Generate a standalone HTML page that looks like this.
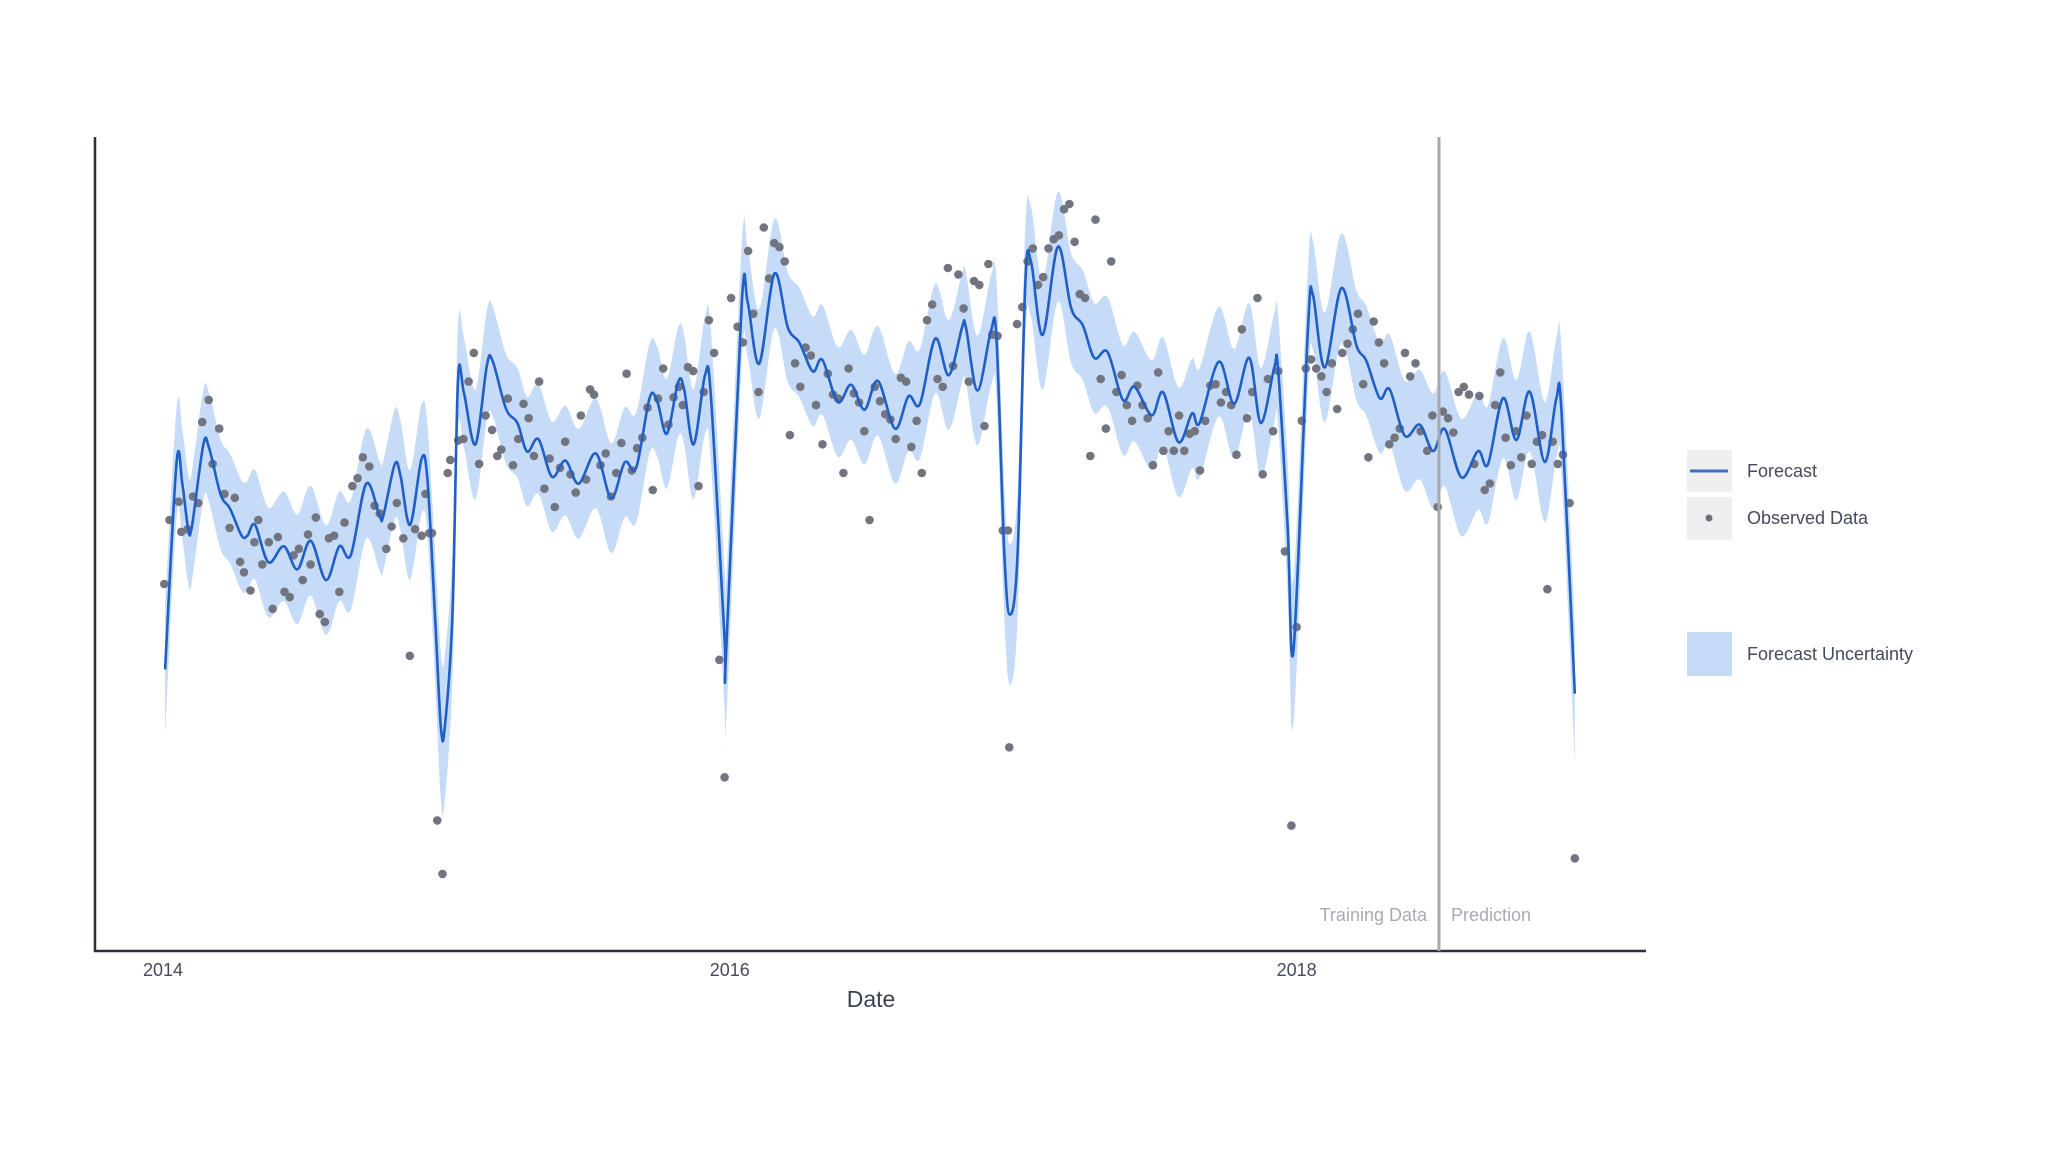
<!DOCTYPE html>
<html><head><meta charset="utf-8">
<style>
html,body{margin:0;padding:0;background:#fff;}
svg{display:block;}
text{font-family:"Liberation Sans",sans-serif;}
</style></head>
<body>
<svg id="chart" width="2048" height="1152" viewBox="0 0 2048 1152" xmlns="http://www.w3.org/2000/svg">
  <g id="band-layer"></g>
  <g id="dot-layer"></g>
  <g id="line-layer"></g>
  <line x1="95" y1="137" x2="95" y2="952" stroke="#2b2f3a" stroke-width="2.5"/>
  <line x1="94" y1="951" x2="1646" y2="951" stroke="#2b2f3a" stroke-width="2.5"/>
  <g id="tick-layer"></g>
  <text x="871" y="1007" font-size="23" fill="#3a4050" text-anchor="middle">Date</text>
  <line x1="1439" y1="137" x2="1439" y2="951" stroke="#a8a8ac" stroke-width="3"/>
  <text x="1427" y="921" font-size="18" fill="#a9abb2" text-anchor="end">Training Data</text>
  <text x="1451" y="921" font-size="18" fill="#a9abb2">Prediction</text>
  <g>
    <g>
      <rect x="1687" y="450" width="45" height="42" fill="#efeff1"/>
      <line x1="1690" y1="471" x2="1728" y2="471" stroke="#3f6fc4" stroke-width="3"/>
      <text x="1747" y="477" font-size="18" fill="#454b5c">Forecast</text>
    </g>
    <g>
      <rect x="1687" y="497" width="45" height="43" fill="#efeff1"/>
      <circle cx="1709" cy="518" r="3.5" fill="#6b6e78"/>
      <text x="1747" y="524" font-size="18" fill="#454b5c">Observed Data</text>
    </g>
    <g>
      <rect x="1687" y="632" width="45" height="44" fill="#c6dbf7"/>
      <text x="1747" y="660" font-size="18" fill="#454b5c">Forecast Uncertainty</text>
    </g>
  </g>
</svg>
<script>
// time unit: 217 units per year, t=0 at start of 2014
const tickYears = ["2014", "2016", "2018"];
const tickTimes = [0, 434, 868];

const forecastT = [1.6,10.4,14.8,19.2,22.1,30.9,35.3,44.1,51.4,60.2,
64.7,70.5,80.7,92.5,102.8,113.1,124.8,135.0,143.8,155.6,
165.8,168.7,177.5,182.0,189.2,198.0,202.5,208.3,212.7,215.7,
221.6,225.9,230.4,239.2,247.9,252.3,262.6,271.4,278.8,287.5,
297.8,308.1,318.3,331.5,343.2,353.5,362.3,372.6,378.5,385.8,
394.5,399.0,406.3,415.1,419.5,429.8,431.2,443.2,447.7,456.5,
468.2,478.4,487.3,497.5,504.9,516.6,526.9,537.1,547.4,560.5,
570.8,579.6,591.3,601.7,611.9,614.8,623.6,633.9,638.2,644.2,
648.5,654.4,660.3,664.7,673.5,685.2,695.4,704.3,713.1,723.3,
735.0,743.8,757.0,765.8,777.6,787.9,793.7,808.4,820.1,831.8,
840.6,850.9,853.8,861.1,865.6,876.7,880.5,889.5,902.3,913.8,
921.4,931.6,939.3,950.8,962.3,972.5,981.4,994.2,1006.9,1014.5,
1026.0,1036.3,1046.5,1058.0,1066.9,1070.8,1081];

const forecastV = [215.6,374.2,357.8,323.6,324.9,387.9,385.1,349.6,338.6,318.1,
318.1,326.3,297.6,309.9,292.2,314.1,284.0,309.9,303.1,357.8,
333.2,333.2,372.8,363.2,326.3,376.9,360.5,256.6,171.9,170.5,
256.6,437.0,427.5,387.9,448.0,452.1,415.2,404.3,382.4,391.9,
363.2,375.5,357.8,381.0,346.8,374.2,370.1,423.4,420.6,396.1,
435.7,430.2,387.9,441.2,424.8,242.9,227.9,496.7,496.7,449.7,
518.7,477.6,465.8,443.8,452.6,420.4,433.6,414.5,436.5,399.9,
424.8,419.0,468.8,440.9,477.6,477.6,429.2,474.6,468.8,304.6,
257.6,304.6,512.8,527.5,471.7,539.2,492.2,479.1,454.1,458.5,
421.9,432.1,410.2,427.8,389.6,411.6,404.3,451.2,419.0,454.1,
404.3,446.8,445.3,325.1,230.3,477.2,502.4,446.8,507.5,463.7,
451.9,423.3,430.0,394.6,403.0,382.8,399.7,362.6,382.8,372.7,
423.3,391.2,428.3,374.4,423.3,413.1,197];

const bandHalf = [50,42,42,42,42,42,42,42,42,42,
42,42,42,42,42,42,42,42,42,42,
42,42,42,42,42,42,42,50,56,56,
50,42,42,42,42,42,42,42,42,42,
42,42,42,42,42,42,42,42,42,42,
42,42,42,45,50,54,54,45,42,42,
42,42,42,42,42,42,42,42,42,42,
42,42,42,42,42,42,42,42,45,50,
54,50,42,42,42,42,42,42,42,42,
42,42,42,42,42,42,42,42,42,42,
42,42,42,50,56,45,42,42,42,42,
42,42,42,42,42,44,44,45,45,45,
46,46,46,46,46,48,52];

const obsT = [1,5,12,14,19,23,27,30,35,38,43,47,51,55,59,62,67,70,73,76,81,84,88,93,97,100,104,107,111,113,117,120,124,127,131,135,139,145,149,153,158,162,166,171,175,179,184,189,193,198,201,204,206,210,214,218,220,
226,230,234,238,242,247,252,256,259,264,268,272,276,280,284,288,292,296,300,304,308,312,316,320,324,327,330,335,339,343,347,351,355,359,363,367,371,375,379,383,387,391,395,398,402,406,410,414,418,422,426,430,
435,440,444,448,452,456,460,464,468,472,476,480,484,488,492,496,500,505,509,513,517,521,525,529,533,537,541,545,549,553,557,561,565,569,573,577,581,585,589,593,597,601,605,609,613,617,621,625,629,632,635,639,643,647,648,
654,658,662,666,670,674,678,682,686,690,694,698,702,706,710,714,718,722,726,730,734,738,742,746,750,754,758,762,766,770,774,778,782,786,790,794,798,802,806,810,814,818,822,826,830,834,838,842,846,850,854,859,864,868,872,
875,879,883,887,891,895,899,903,907,911,915,919,923,927,931,935,939,943,947,951,955,959,963,968,972,976,980,984,988,992,996,1000,1004,1008,1012,1016,1020,1024,1028,1032,1036,1040,1044,1048,1052,1056,1060,1064,1068,1072,1077,1081];

const obsV = [281,330,344,321,323,348,343,405,422,373,400,350,324,347,298,290,276,313,330,296,313,262,317,275,271,303,308,284,319,296,332,258,252,316,318,275,328,356,362,378,371,341,335,308,325,343,316,226,323,318,350,320,320,100,59,366,376,
391,392,436,458,373,410,399,379,384,423,372,392,419,408,379,436,354,377,340,370,390,365,351,410,361,430,426,372,381,348,366,389,442,368,385,393,416,353,423,446,403,424,432,418,447,444,356,428,483,458,223,133,
500,478,466,536,488,428,554,515,542,539,528,395,450,432,462,456,418,388,442,426,423,366,446,427,420,398,330,432,421,411,407,392,439,436,386,406,366,483,495,438,432,523,448,518,492,436,513,510,402,526,472,471,322,322,156,
480,493,528,538,510,516,538,545,548,568,572,543,503,500,379,560,438,400,528,428,441,418,406,433,418,408,372,443,383,398,383,410,383,396,398,368,406,433,434,420,428,418,380,476,408,428,500,365,438,398,444,306,96,248,406,
446,453,446,440,428,450,415,458,465,476,488,434,378,482,466,450,388,393,400,458,440,450,398,383,410,340,413,408,397,428,432,426,373,425,353,358,418,443,393,372,398,378,410,373,390,395,277,390,373,380,343,71];

const X0 = 163, XK = 1.306, Y0 = 951, YK = 1.306;
function xScale(t){ return X0 + t * XK; }
function yScale(v){ return Y0 - v * YK; }
const NS = "http://www.w3.org/2000/svg";

function smoothPath(pts, start) {
  let d = start ? 'M' + pts[0][0].toFixed(1) + ',' + pts[0][1].toFixed(1) : 'L' + pts[0][0].toFixed(1) + ',' + pts[0][1].toFixed(1);
  for (let i = 0; i < pts.length - 1; i++) {
    const p0 = pts[Math.max(0, i - 1)], p1 = pts[i], p2 = pts[i + 1], p3 = pts[Math.min(pts.length - 1, i + 2)];
    const c1x = p1[0] + (p2[0] - p0[0]) / 6, c1y = p1[1] + (p2[1] - p0[1]) / 6;
    const c2x = p2[0] - (p3[0] - p1[0]) / 6, c2y = p2[1] - (p3[1] - p1[1]) / 6;
    d += 'C' + c1x.toFixed(1) + ',' + c1y.toFixed(1) + ' ' + c2x.toFixed(1) + ',' + c2y.toFixed(1) + ' ' + p2[0].toFixed(1) + ',' + p2[1].toFixed(1);
  }
  return d;
}

// ticks
const tickLayer = document.getElementById('tick-layer');
tickYears.forEach((lab, i) => {
  const t = document.createElementNS(NS, 'text');
  t.setAttribute('x', xScale(tickTimes[i]));
  t.setAttribute('y', 976);
  t.setAttribute('font-size', '18');
  t.setAttribute('fill', '#454b5c');
  t.setAttribute('text-anchor', 'middle');
  t.textContent = lab;
  
  
  tickLayer.appendChild(t);
});

// band
let up = [], lo = [];
for (let i = 0; i < forecastT.length; i++) {
  up.push([xScale(forecastT[i]), yScale(forecastV[i] + bandHalf[i])]);
  lo.push([xScale(forecastT[i]), yScale(forecastV[i] - bandHalf[i])]);
}
lo.reverse();
const band = document.createElementNS(NS, 'path');
band.setAttribute('d', smoothPath(up, true) + smoothPath(lo, false) + 'Z');
band.setAttribute('fill', '#c6dbf7');
band.setAttribute('stroke', 'none');


document.getElementById('band-layer').appendChild(band);

// dots
const dotLayer = document.getElementById('dot-layer');
for (let i = 0; i < obsT.length; i++) {
  const c = document.createElementNS(NS, 'circle');
  c.setAttribute('cx', xScale(obsT[i]).toFixed(1));
  c.setAttribute('cy', yScale(obsV[i]).toFixed(1));
  c.setAttribute('r', '4.3');
  c.setAttribute('fill', '#72757f');
  
  
  dotLayer.appendChild(c);
}

// line
let pts = [];
for (let i = 0; i < forecastT.length; i++) {
  pts.push([xScale(forecastT[i]), yScale(forecastV[i])]);
}
const line = document.createElementNS(NS, 'path');
line.setAttribute('d', smoothPath(pts, true));
line.setAttribute('fill', 'none');
line.setAttribute('stroke', '#1f5fc6');
line.setAttribute('stroke-width', '2.6');
line.setAttribute('stroke-linejoin', 'round');


document.getElementById('line-layer').appendChild(line);
</script>
</body></html>
